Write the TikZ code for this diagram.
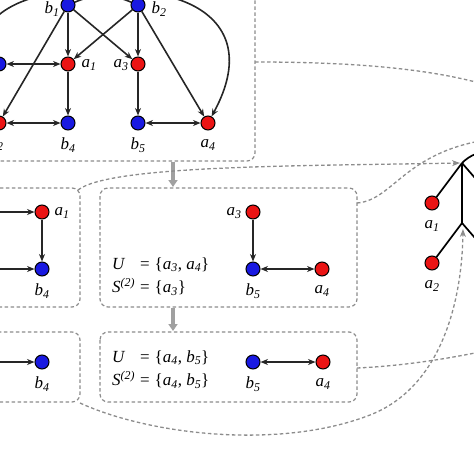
\documentclass[tikz,border=0pt]{standalone}
\usepackage{fontspec}
\setmainfont{Liberation Serif}
\usetikzlibrary{arrows.meta}
\definecolor{nred}{RGB}{235,20,20}
\definecolor{nblue}{RGB}{25,25,225}
\definecolor{dgray}{RGB}{140,140,140}
\definecolor{fgray}{RGB}{160,160,160}
\newcommand{\vl}[2]{\textit{#1}\textsubscript{\textit{#2}}}
\tikzset{
  rn/.style={circle, fill=nred, draw=black, line width=1pt, minimum size=14pt, inner sep=0pt},
  bn/.style={circle, fill=nblue, draw=black, line width=1pt, minimum size=14pt, inner sep=0pt},
  edge/.style={-{Stealth[length=7.5pt,width=6pt]}, line width=1.6pt, black!85},
  dedge/.style={{Stealth[length=7.5pt,width=6pt]}-{Stealth[length=7.5pt,width=6pt]}, line width=1.6pt, black!85},
  box/.style={draw=dgray, dash pattern=on 3.5pt off 2.5pt, rounded corners=8pt, line width=1.2pt},
  link/.style={draw=dgray, dash pattern=on 3.5pt off 2.5pt, line width=1.3pt},
  linkarrow/.style={link, -{Stealth[length=8pt,width=6pt]}},
  flow/.style={draw=fgray, line width=3.4pt, -{Triangle[length=7pt,width=9pt]}},
  tline/.style={draw=black, line width=1.7pt},
  lab/.style={inner sep=0pt},
}
\begin{document}
\begin{tikzpicture}[x=1pt, y=-1pt, font=\fontsize{17}{20}\selectfont]
\useasboundingbox (0,0) rectangle (474,474);
\clip (0,0) rectangle (474,474);

% ---------------- boxes ----------------
\draw[box] (-30,-30) rectangle (255,161);
\draw[box] (-200,188) rectangle (80,307);
\draw[box] (100,188) rectangle (357,307);
\draw[box] (-200,332) rectangle (80,402);
\draw[box] (100,332) rectangle (357,402);

% ---------------- top graph ----------------
\node[bn] (b1) at (68,5) {};
\node[bn] (b2) at (138,5) {};
\node[bn] (b3) at (-1,64) {};
\node[rn] (a1) at (68,64) {};
\node[rn] (a3) at (138,64) {};
\node[rn] (a2) at (-1,123) {};
\node[bn] (b4) at (68,123) {};
\node[bn] (b5) at (138,123) {};
\node[rn] (a4) at (208,123) {};

\node[lab] (lb1) at (52,9) {\vl{b}{1}};
\node[lab] (lb2) at (159,9) {\vl{b}{2}};
\node[lab] (lb3) at (-7,51) {\vl{b}{3}};
\node[lab] (la1) at (89,65) {\vl{a}{1}};
\node[lab] (la3) at (121,65) {\vl{a}{3}};
\node[lab] (la2) at (-4,145) {\vl{a}{2}};
\node[lab] (lb4) at (68,145) {\vl{b}{4}};
\node[lab] (lb5) at (138,145) {\vl{b}{5}};
\node[lab] (la4) at (208,145) {\vl{a}{4}};

\draw[edge] (b1) -- (a1);
\draw[edge] (b1) -- (a3);
\draw[edge] (b1) -- (a2);
\draw[edge] (b2) -- (a1);
\draw[edge] (b2) -- (a3);
\draw[edge] (b2) -- (a4);
\draw[edge] (a1) -- (b4);
\draw[edge] (a3) -- (b5);
\draw[dedge] (b3) -- (a1);
\draw[dedge] (a2) -- (b4);
\draw[dedge] (b5) -- (a4);
\draw[edge] (b1) .. controls (140,-25) and (275,0) .. (a4);
\draw[edge] (b2) .. controls (66,-25) and (-69,0) .. (a2);

% ---------------- left middle box ----------------
\coordinate (inA) at (-20,212);
\coordinate (inB) at (-20,269);
\node[rn] (ma1) at (42,212) {};
\node[bn] (mb4) at (42,269) {};
\node[lab] (lma1) at (62,213) {\vl{a}{1}};
\node[lab] (lmb4) at (42,291) {\vl{b}{4}};
\draw[edge] (inA) -- (ma1);
\draw[edge] (inB) -- (mb4);
\draw[edge] (ma1) -- (mb4);

% ---------------- middle box ----------------
\node[rn] (ca3) at (253,212) {};
\node[bn] (cb5) at (253,269) {};
\node[rn] (ca4) at (322,269) {};
\node[lab] (lca3) at (234,213) {\vl{a}{3}};
\node[lab] (lcb5) at (253,291) {\vl{b}{5}};
\node[lab] (lca4) at (322,291) {\vl{a}{4}};
\draw[edge] (ca3) -- (cb5);
\draw[dedge] (cb5) -- (ca4);
\node[lab, anchor=west] (ctext) at (112,277) {\begin{tabular}{@{}l@{\hspace{5pt}}c@{\hspace{5pt}}l@{}}
\textit{U} & = & \{\vl{a}{3}, \vl{a}{4}\}\\[3pt]
\textit{S}\textsuperscript{\textit{(2)}} & = & \{\vl{a}{3}\}
\end{tabular}};

% ---------------- bottom left box ----------------
\coordinate (inC) at (-20,362);
\node[bn] (db4) at (42,362) {};
\node[lab] (ldb4) at (42,384) {\vl{b}{4}};
\draw[edge] (inC) -- (db4);

% ---------------- bottom middle box ----------------
\node[bn] (eb5) at (253,362) {};
\node[rn] (ea4) at (323,362) {};
\node[lab] (leb5) at (253,384) {\vl{b}{5}};
\node[lab] (lea4) at (323,384) {\vl{a}{4}};
\draw[dedge] (eb5) -- (ea4);
\node[lab, anchor=west] (etext) at (112,370) {\begin{tabular}{@{}l@{\hspace{5pt}}c@{\hspace{5pt}}l@{}}
\textit{U} & = & \{\vl{a}{4}, \vl{b}{5}\}\\[3pt]
\textit{S}\textsuperscript{\textit{(2)}} & = & \{\vl{a}{4}, \vl{b}{5}\}
\end{tabular}};

% ---------------- flow arrows ----------------
\coordinate (topS) at (173,162);
\coordinate (midN) at (173,187);
\coordinate (midS) at (173,308);
\coordinate (botN) at (173,331);
\draw[flow] (topS) -- (midN);
\draw[flow] (midS) -- (botN);

% ---------------- tree on the right ----------------
\coordinate (root) at (462,163);
\coordinate (mid) at (462,223);
\node[rn] (ta1) at (432,203) {};
\node[rn] (ta2) at (432,263) {};
\node[lab] (lta1) at (432,226) {\vl{a}{1}};
\node[lab] (lta2) at (432,286) {\vl{a}{2}};
\coordinate (rootR) at (488,193);
\coordinate (midR) at (488,253);
\coordinate (rootU) at (495,150);
\draw[tline] (root) -- (ta1);
\draw[tline] (root) -- (mid);
\draw[tline] (root) -- (rootR);
\draw[tline] (mid) -- (ta2);
\draw[tline] (mid) -- (midR);
\draw[tline] (root) .. controls (470,155) and (480,151) .. (rootU);

% ---------------- dashed links ----------------
\coordinate (topE) at (255,62);
\coordinate (offA) at (490,86);
\draw[link] (topE) .. controls (350,62) and (430,68) .. (offA);

\coordinate (lmNE) at (78,190);
\coordinate (rootW) at (460,163);
\draw[linkarrow] (lmNE) .. controls (110,165) and (300,166) .. (rootW);

\coordinate (cmE) at (357,203);
\coordinate (offB) at (500,138);
\draw[link] (cmE) .. controls (395,200) and (405,148) .. (offB);

\coordinate (emE) at (357,368);
\coordinate (offC) at (480,352);
\draw[link] (emE) .. controls (400,366) and (440,360) .. (offC);

\coordinate (dlSE) at (80,403);
\coordinate (bend) at (370,415);
\coordinate (midS2) at (463,229);
\draw[linkarrow] (dlSE) .. controls (150,435) and (280,450) .. (bend)
   .. controls (442,387) and (462,300) .. (midS2);
\end{tikzpicture}
\end{document}
